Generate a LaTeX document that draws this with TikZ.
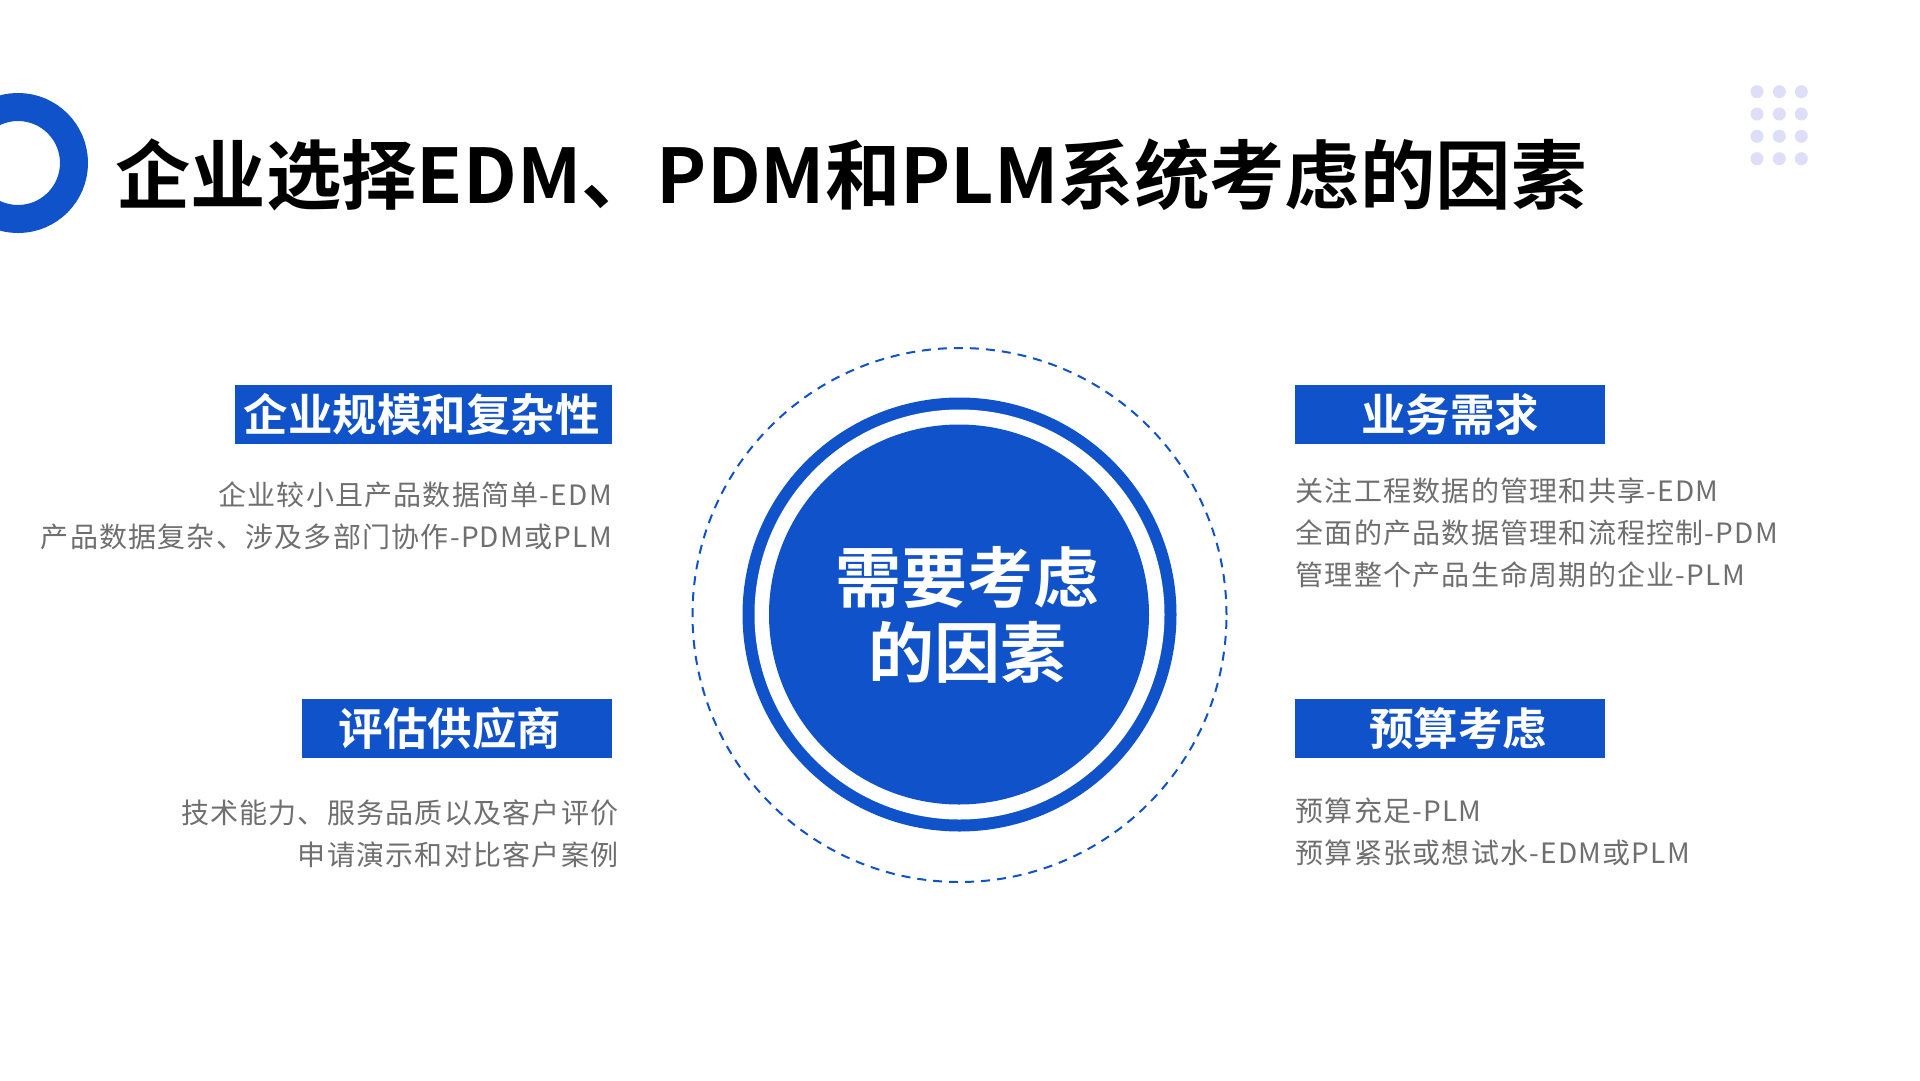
\documentclass[tikz,border=0pt]{standalone}
\usepackage{fontspec}
\newfontfamily\cjkreg{Noto Sans CJK SC}[LetterSpace=4.4]
\newfontfamily\cjkbold{Noto Sans CJK SC Bold}
\definecolor{brand}{HTML}{1052C9}
\definecolor{bodygray}{HTML}{6F6F6F}
\definecolor{dotlav}{HTML}{DEDEF8}
\tikzset{
  headbox/.style={fill=brand,text=white,inner sep=0pt,minimum height=59pt,
    font=\cjkbold\fontsize{44.5}{44.5}\selectfont},
  bodytext/.style={text=bodygray,inner sep=0pt,
    font=\cjkreg\fontsize{28}{42}\selectfont},
  dotmark/.style={circle,fill=dotlav,minimum size=13pt,inner sep=0pt},
}
\begin{document}
\begin{tikzpicture}[x=1pt,y=-1pt]
\path[use as bounding box] (0,0) rectangle (1920,1080);
\clip (0,0) rectangle (1920,1080);
\fill[white] (0,0) rectangle (1920,1080);
% corner ring
\node[circle,draw=brand,line width=28pt,minimum size=112pt,inner sep=0pt] (ring) at (18,163) {};
% title
\node[anchor=west,inner sep=0pt,font=\cjkbold\fontsize{75.4}{75.4}\selectfont,text=black] (title) at (115,175) {企业选择EDM、PDM和PLM系统考虑的因素};
% decorative dots
\foreach \r/\yy in {1/91.7,2/114,3/136.3,4/158.7}{
  \node[dotmark] (dota\r) at (1757,\yy) {};
  \node[dotmark] (dotb\r) at (1779.3,\yy) {};
  \node[dotmark] (dotc\r) at (1801.3,\yy) {};
}
% centre
\node[circle,draw=brand,dash pattern=on 9pt off 7pt,line width=2pt,minimum size=534pt,inner sep=0pt] (dash) at (959.5,615) {};
\node[circle,fill=brand,minimum size=434pt,inner sep=0pt] (outer) at (959.5,614.5) {};
\node[circle,fill=white,minimum size=410pt,inner sep=0pt] (gap) at (959.5,614.5) {};
\node[circle,fill=brand,minimum size=380pt,inner sep=0pt] (core) at (959,614.5) {};
\node[align=center,text=white,inner sep=0pt,font=\cjkbold\fontsize{66}{75}\selectfont] (coretext) at (967.5,615) {需要考虑\\的因素};
% head boxes
\node[headbox,minimum width=377pt] (h1) at (423.5,414.5) {\hspace*{-4pt}企业规模和复杂性};
\node[headbox,minimum width=310pt] (h2) at (1450,414.5) {业务需求};
\node[headbox,minimum width=310pt] (h3) at (457,728.5) {\hspace*{-14pt}评估供应商};
\node[headbox,minimum width=310pt] (h4) at (1450,728.5) {\hspace*{16pt}预算考虑};
% body text
\node[bodytext,anchor=east,align=right] (b1) at (612,516) {企业较小且产品数据简单-EDM\\产品数据复杂、涉及多部门协作-PDM或PLM};
\node[bodytext,anchor=west,align=left] (b2) at (1295.5,533) {关注工程数据的管理和共享-EDM\\全面的产品数据管理和流程控制-PDM\\管理整个产品生命周期的企业-PLM};
\node[bodytext,anchor=east,align=right] (b3) at (618.5,834) {技术能力、服务品质以及客户评价\\申请演示和对比客户案例};
\node[bodytext,anchor=west,align=left] (b4) at (1295.5,831.5) {预算充足-PLM\\预算紧张或想试水-EDM或PLM};
\end{tikzpicture}
\end{document}
